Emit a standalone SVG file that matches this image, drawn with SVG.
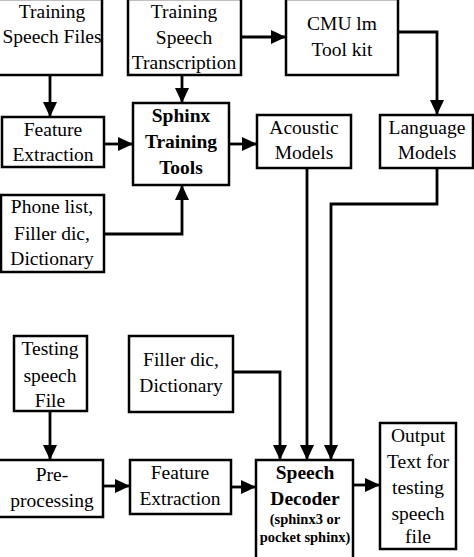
<svg xmlns="http://www.w3.org/2000/svg" width="474" height="557" viewBox="0 0 474 557">
<defs>
<marker id="ah" viewBox="0 0 15 14" refX="15" refY="7" markerWidth="15" markerHeight="14" markerUnits="userSpaceOnUse" orient="auto">
<path d="M0,0 L15,7 L0,14 z" fill="#000"/>
</marker>
<style>
.b{fill:#fff;stroke:#000;stroke-width:2.5}
.t{font-family:"Liberation Serif","Times New Roman",serif;font-size:19.5px;text-anchor:middle;fill:#000}
.tb{font-family:"Liberation Serif","Times New Roman",serif;font-size:19.5px;font-weight:bold;text-anchor:middle;fill:#000}
.ts{font-family:"Liberation Serif","Times New Roman",serif;font-size:14.5px;font-weight:bold;text-anchor:middle;fill:#000}
.c{fill:none;stroke:#000;stroke-width:2.8;marker-end:url(#ah)}
</style>
</defs>
<rect width="474" height="557" fill="#fff"/>
<g id="connectors">
<path class="c" d="M50,75 V117"/>
<path class="c" d="M182,75 V103"/>
<path class="c" d="M241,37 H286"/>
<path class="c" d="M398,32 H437 V115"/>
<path class="c" d="M104,144 H133"/>
<path class="c" d="M229,144 H257"/>
<path class="c" d="M104,234 H182 V185"/>
<path class="c" d="M307,168 V460"/>
<path class="c" d="M437,168 V204 H331 V460"/>
<path class="c" d="M233,372 H280 V460"/>
<path class="c" d="M50,411 V460"/>
<path class="c" d="M103,486 H130"/>
<path class="c" d="M231,487 H256"/>
<path class="c" d="M353,485 H380"/>
</g>
<g id="training-speech-files">
<rect class="b" x="-2" y="-1" width="104" height="76"/>
<text class="t" x="52" y="18">Training</text>
<text class="t" x="52" y="43">Speech Files</text>
</g>
<g id="training-transcription">
<rect class="b" x="128" y="-1" width="113" height="76"/>
<text class="t" x="184" y="18">Training</text>
<text class="t" x="184" y="44">Speech</text>
<text class="t" x="184" y="69">Transcription</text>
</g>
<g id="cmu-lm">
<rect class="b" x="286" y="-1" width="112" height="76"/>
<text class="t" x="342" y="30">CMU lm</text>
<text class="t" x="342" y="56">Tool kit</text>
</g>
<g id="feature-extraction-train">
<rect class="b" x="2" y="117" width="102" height="50"/>
<text class="t" x="53" y="136">Feature</text>
<text class="t" x="53" y="161">Extraction</text>
</g>
<g id="sphinx-training-tools">
<rect class="b" x="133" y="103" width="96" height="82"/>
<text class="tb" x="181" y="122">Sphinx</text>
<text class="tb" x="181" y="148">Training</text>
<text class="tb" x="181" y="174">Tools</text>
</g>
<g id="acoustic-models">
<rect class="b" x="257" y="115" width="94" height="53"/>
<text class="t" x="304" y="134">Acoustic</text>
<text class="t" x="304" y="159">Models</text>
</g>
<g id="language-models">
<rect class="b" x="380" y="115" width="93" height="53"/>
<text class="t" x="427" y="134">Language</text>
<text class="t" x="427" y="159">Models</text>
</g>
<g id="phone-list">
<rect class="b" x="1" y="195" width="103" height="77"/>
<text class="t" x="52" y="213">Phone list,</text>
<text class="t" x="52" y="240">Filler dic,</text>
<text class="t" x="52" y="265">Dictionary</text>
</g>
<g id="testing-speech-file">
<rect class="b" x="14" y="336" width="73" height="75"/>
<text class="t" x="50" y="355">Testing</text>
<text class="t" x="50" y="382">speech</text>
<text class="t" x="50" y="407">File</text>
</g>
<g id="filler-dic">
<rect class="b" x="129" y="336" width="104" height="76"/>
<text class="t" x="181" y="366">Filler dic,</text>
<text class="t" x="181" y="392">Dictionary</text>
</g>
<g id="pre-processing">
<rect class="b" x="-2" y="460" width="105" height="57"/>
<text class="t" x="52" y="481">Pre-</text>
<text class="t" x="52" y="507">processing</text>
</g>
<g id="feature-extraction-test">
<rect class="b" x="130" y="460" width="101" height="54"/>
<text class="t" x="180" y="479">Feature</text>
<text class="t" x="180" y="505">Extraction</text>
</g>
<g id="speech-decoder">
<rect class="b" x="256" y="460" width="97" height="105"/>
<text class="tb" x="305" y="479">Speech</text>
<text class="tb" x="305" y="505">Decoder</text>
<text class="ts" x="305" y="524">(sphinx3 or</text>
<text class="ts" x="305" y="542">pocket sphinx)</text>
</g>
<g id="output-text">
<rect class="b" x="380" y="423" width="76" height="126"/>
<text class="t" x="418" y="442">Output</text>
<text class="t" x="418" y="468">Text for</text>
<text class="t" x="418" y="494">testing</text>
<text class="t" x="418" y="520">speech</text>
<text class="t" x="418" y="543">file</text>
</g>
</svg>
